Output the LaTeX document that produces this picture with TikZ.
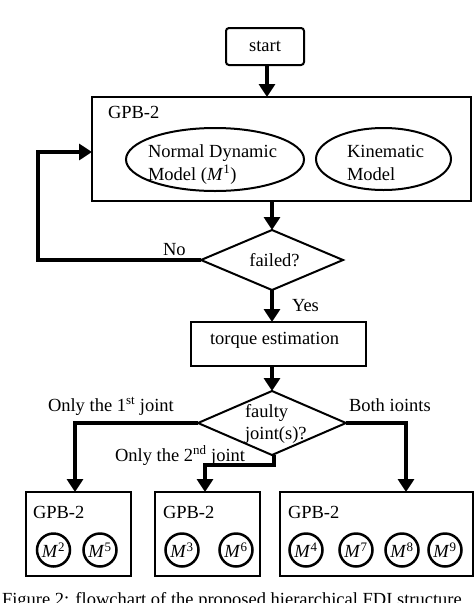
\documentclass[tikz,border=0pt]{standalone}
\usepackage{fontspec}
\setmainfont{Liberation Serif}
\usetikzlibrary{shapes.geometric,arrows.meta}
\begin{document}
\begin{tikzpicture}[x=1pt,y=-1pt,
  every node/.style={font=\fontsize{18.5}{22}\selectfont, inner sep=0pt, outer sep=0pt},
  box/.style={draw, line width=2pt, rectangle},
  rbox/.style={draw, line width=2pt, rectangle, rounded corners=3pt},
  ell/.style={draw, line width=2pt, ellipse},
  dia/.style={draw, line width=2pt, diamond},
  mc/.style={draw, line width=2.5pt, circle, minimum size=33pt},
  conn/.style={line width=4.5pt, -{Triangle[width=16pt,length=13pt]}},
  lbl/.style={anchor=base west},
]
\useasboundingbox (0,0) rectangle (474,603);
\fill[white] (0,0) rectangle (474,603);

% top
\node[rbox, minimum width=78pt, minimum height=37pt] (start) at (265,46.5) {start};
\node[box, minimum width=379pt, minimum height=104pt] (gpb) at (281.5,149) {};
\node[lbl] (gpbl) at (108,118) {GPB-2};
\node[ell, minimum width=178pt, minimum height=63pt] (e1) at (215,159.5) {};
\node[lbl] (e1a) at (148,157) {Normal Dynamic};
\node[lbl] (e1b) at (148,180) {Model (\textit{M}\textsuperscript{1})};
\node[ell, minimum width=135pt, minimum height=62pt] (e2) at (383.5,159) {};
\node[lbl] (e2a) at (347,157) {Kinematic};
\node[lbl] (e2b) at (347,180) {Model};

\node[dia, minimum width=142pt, minimum height=60pt] (failed) at (272,260) {};
\node[anchor=base] (failedt) at (274.5,266) {failed?};
\node[lbl] (no) at (163,255) {No};
\node[lbl] (yes) at (292,311) {Yes};

\node[box, minimum width=175pt, minimum height=44pt] (torque) at (278.5,344) {};
\node[anchor=base] (torquet) at (274.5,344) {torque estimation};

\node[dia, minimum width=148pt, minimum height=64pt] (faulty) at (272,423) {};
\node[lbl] (faultya) at (245,417) {faulty};
\node[lbl] (faultyb) at (245,439) {joint(s)?};

\node[lbl] (l1) at (48,411) {Only the 1\textsuperscript{st} joint};
\node[lbl] (l3) at (349,411) {Both ioints};
\node[lbl] (l2) at (115,461) {Only the 2\textsuperscript{nd} joint};

% bottom boxes
\node[box, minimum width=105pt, minimum height=84pt] (b1) at (78.5,534) {};
\node[box, minimum width=105pt, minimum height=84pt] (b2) at (207.5,534) {};
\node[box, minimum width=193pt, minimum height=84pt] (b3) at (376.5,534) {};
\node[lbl] (b1l) at (33,518) {GPB-2};
\node[lbl] (b2l) at (163,518) {GPB-2};
\node[lbl] (b3l) at (288,518) {GPB-2};
\node[mc] (m2) at (53.5,550) {\textit{M}\textsuperscript{2}};
\node[mc] (m5) at (100,550) {\textit{M}\textsuperscript{5}};
\node[mc] (m3) at (182,550) {\textit{M}\textsuperscript{3}};
\node[mc] (m6) at (236,550) {\textit{M}\textsuperscript{6}};
\node[mc] (m4) at (306,550) {\textit{M}\textsuperscript{4}};
\node[mc] (m7) at (356,550) {\textit{M}\textsuperscript{7}};
\node[mc] (m8) at (402,550) {\textit{M}\textsuperscript{8}};
\node[mc] (m9) at (445,550) {\textit{M}\textsuperscript{9}};

% connectors
\coordinate (fb) at (38,152);
\coordinate (c1) at (75,0);
\coordinate (c3) at (406,0);
\coordinate (c2a) at (274,465);
\coordinate (c2b) at (205,465);

\draw[conn] (start.south -| 267,0) -- (gpb.north -| 267,0);
\draw[conn] (gpb.south -| failed.north) -- (failed.north);
\draw[conn] (failed.south) -- (failed.south |- torque.north);
\draw[conn] (torque.south -| faulty.north) -- (faulty.north);
\draw[conn] (failed.west) -| (fb) -- (fb -| gpb.west);
\draw[conn] (faulty.west) -| (c1 |- b1.north);
\draw[conn] (faulty.east) -| (c3 |- b3.north);
\draw[conn] (faulty.south -| c2a) -- (c2a) -- (c2b) -- (c2b |- b2.north);

% caption (cut by the page edge)
\begin{scope}
\clip (0,0) rectangle (474,603);
\node[lbl] (cap) at (2,605) {Figure 2: flowchart of the proposed hierarchical FDI structure};
\end{scope}
\end{tikzpicture}
\end{document}
